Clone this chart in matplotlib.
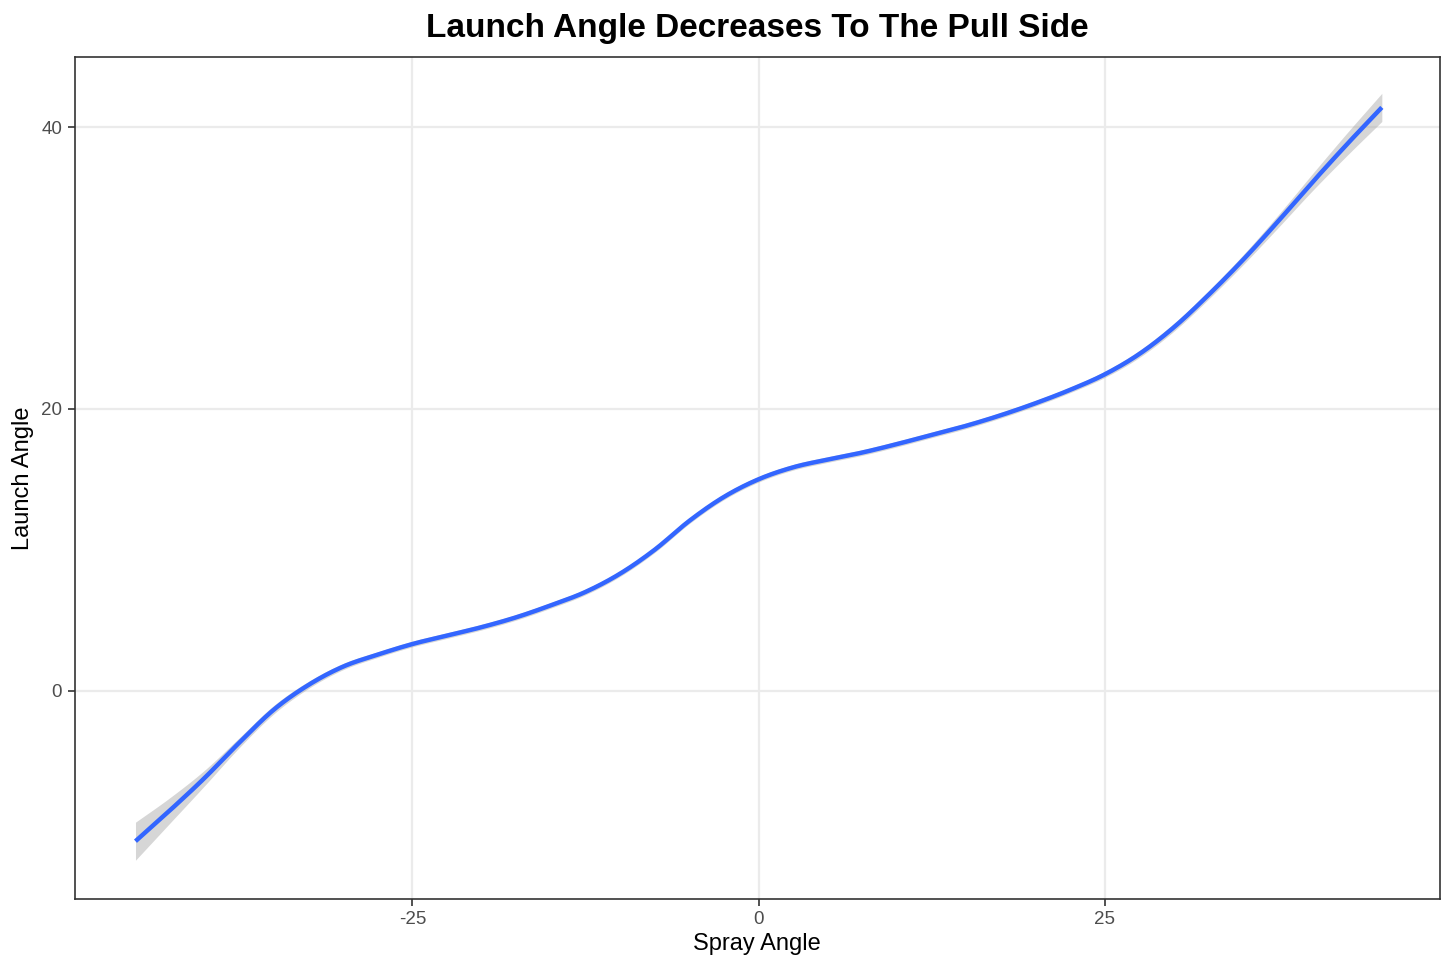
import matplotlib
matplotlib.use("Agg")
import matplotlib.pyplot as plt
import numpy as np

plt.rcParams['font.family'] = ['Liberation Sans', 'DejaVu Sans']

spray_angle = [-45, -42.5, -40, -37.5, -35, -32.5, -30, -27.5, -25, -22.5, -20, -17.5,
               -15, -12.5, -10, -7.5, -5, -2.5, 0, 2.5, 5, 7.5, 10, 12.5, 15, 17.5,
               20, 22.5, 25, 27.5, 30, 32.5, 35, 37.5, 40, 42.5, 45]
launch_angle = [-10.7, -8.5, -6.2, -3.7, -1.35, 0.4, 1.7, 2.55, 3.3, 3.9, 4.5, 5.2,
                6.05, 7.0, 8.3, 10.0, 12.05, 13.75, 15.0, 15.85, 16.4, 16.9, 17.5, 18.15, 18.8, 19.55,
                20.4, 21.35, 22.45, 23.9, 25.8, 28.1, 30.6, 33.3, 36.1, 38.8, 41.4]
std_err = [1.35, 0.9, 0.55, 0.35, 0.3, 0.25, 0.22, 0.2, 0.2, 0.2, 0.2, 0.2,
           0.2, 0.2, 0.2, 0.2, 0.2, 0.2, 0.2, 0.2, 0.2, 0.2, 0.2, 0.2, 0.2, 0.2,
           0.2, 0.2, 0.22, 0.25, 0.28, 0.3, 0.35, 0.45, 0.6, 0.8, 1.0]

x_ticks = [-25, 0, 25]
y_ticks = [0, 20, 40]


def smooth_render(xs, ys, n=24):
    """Draw a smooth cubic Hermite (Catmull-Rom) path through the given points."""
    xs = np.asarray(xs, float)
    ys = np.asarray(ys, float)
    m = np.empty_like(ys)
    m[1:-1] = (ys[2:] - ys[:-2]) / (xs[2:] - xs[:-2])
    m[0] = (ys[1] - ys[0]) / (xs[1] - xs[0])
    m[-1] = (ys[-1] - ys[-2]) / (xs[-1] - xs[-2])
    out_x, out_y = [], []
    for i in range(len(xs) - 1):
        h = xs[i + 1] - xs[i]
        t = np.linspace(0, 1, n, endpoint=False)
        h00 = 2 * t**3 - 3 * t**2 + 1
        h10 = t**3 - 2 * t**2 + t
        h01 = -2 * t**3 + 3 * t**2
        h11 = t**3 - t**2
        out_x.append(xs[i] + t * h)
        out_y.append(h00 * ys[i] + h10 * h * m[i] + h01 * ys[i + 1] + h11 * h * m[i + 1])
    out_x.append([xs[-1]])
    out_y.append([ys[-1]])
    return np.concatenate(out_x), np.concatenate(out_y)


fig = plt.figure(figsize=(14.56, 9.71), dpi=100)
ax = fig.add_axes([0.0512, 0.0742, 0.989 - 0.0512, 0.9416 - 0.0742])

x = np.array(spray_angle)
y = np.array(launch_angle)
se = np.array(std_err)

sx, sy = smooth_render(x, y)
_, slo = smooth_render(x, y - se)
_, shi = smooth_render(x, y + se)

ax.fill_between(sx, slo, shi, color='#999999', alpha=0.4, linewidth=0, zorder=2)
ax.plot(sx, sy, color='#3366FF', linewidth=3.2, zorder=3, solid_capstyle='butt')

ax.set_xlim(-49.4, 49.2)
ax.set_ylim(-14.8, 45.0)
ax.set_xticks(x_ticks)
ax.set_yticks(y_ticks)
ax.set_xticklabels([str(t) for t in x_ticks])
ax.set_yticklabels([str(t) for t in y_ticks])

ax.grid(True, color='#EBEBEB', linewidth=1.6, zorder=0)
ax.set_axisbelow(True)
for s in ax.spines.values():
    s.set_color('#333333')
    s.set_linewidth(1.2)

ax.tick_params(axis='both', colors='#333333', length=5, width=1.2,
               labelsize=13.5, labelcolor='#4D4D4D', pad=4)

ax.set_xlabel('Spray Angle', fontsize=17, color='black', labelpad=3)
ax.set_ylabel('Launch Angle', fontsize=17, color='black', labelpad=5)
ax.set_title('Launch Angle Decreases To The Pull Side', fontsize=24,
             fontweight='bold', pad=14)

fig.savefig('out.png', dpi=100)
